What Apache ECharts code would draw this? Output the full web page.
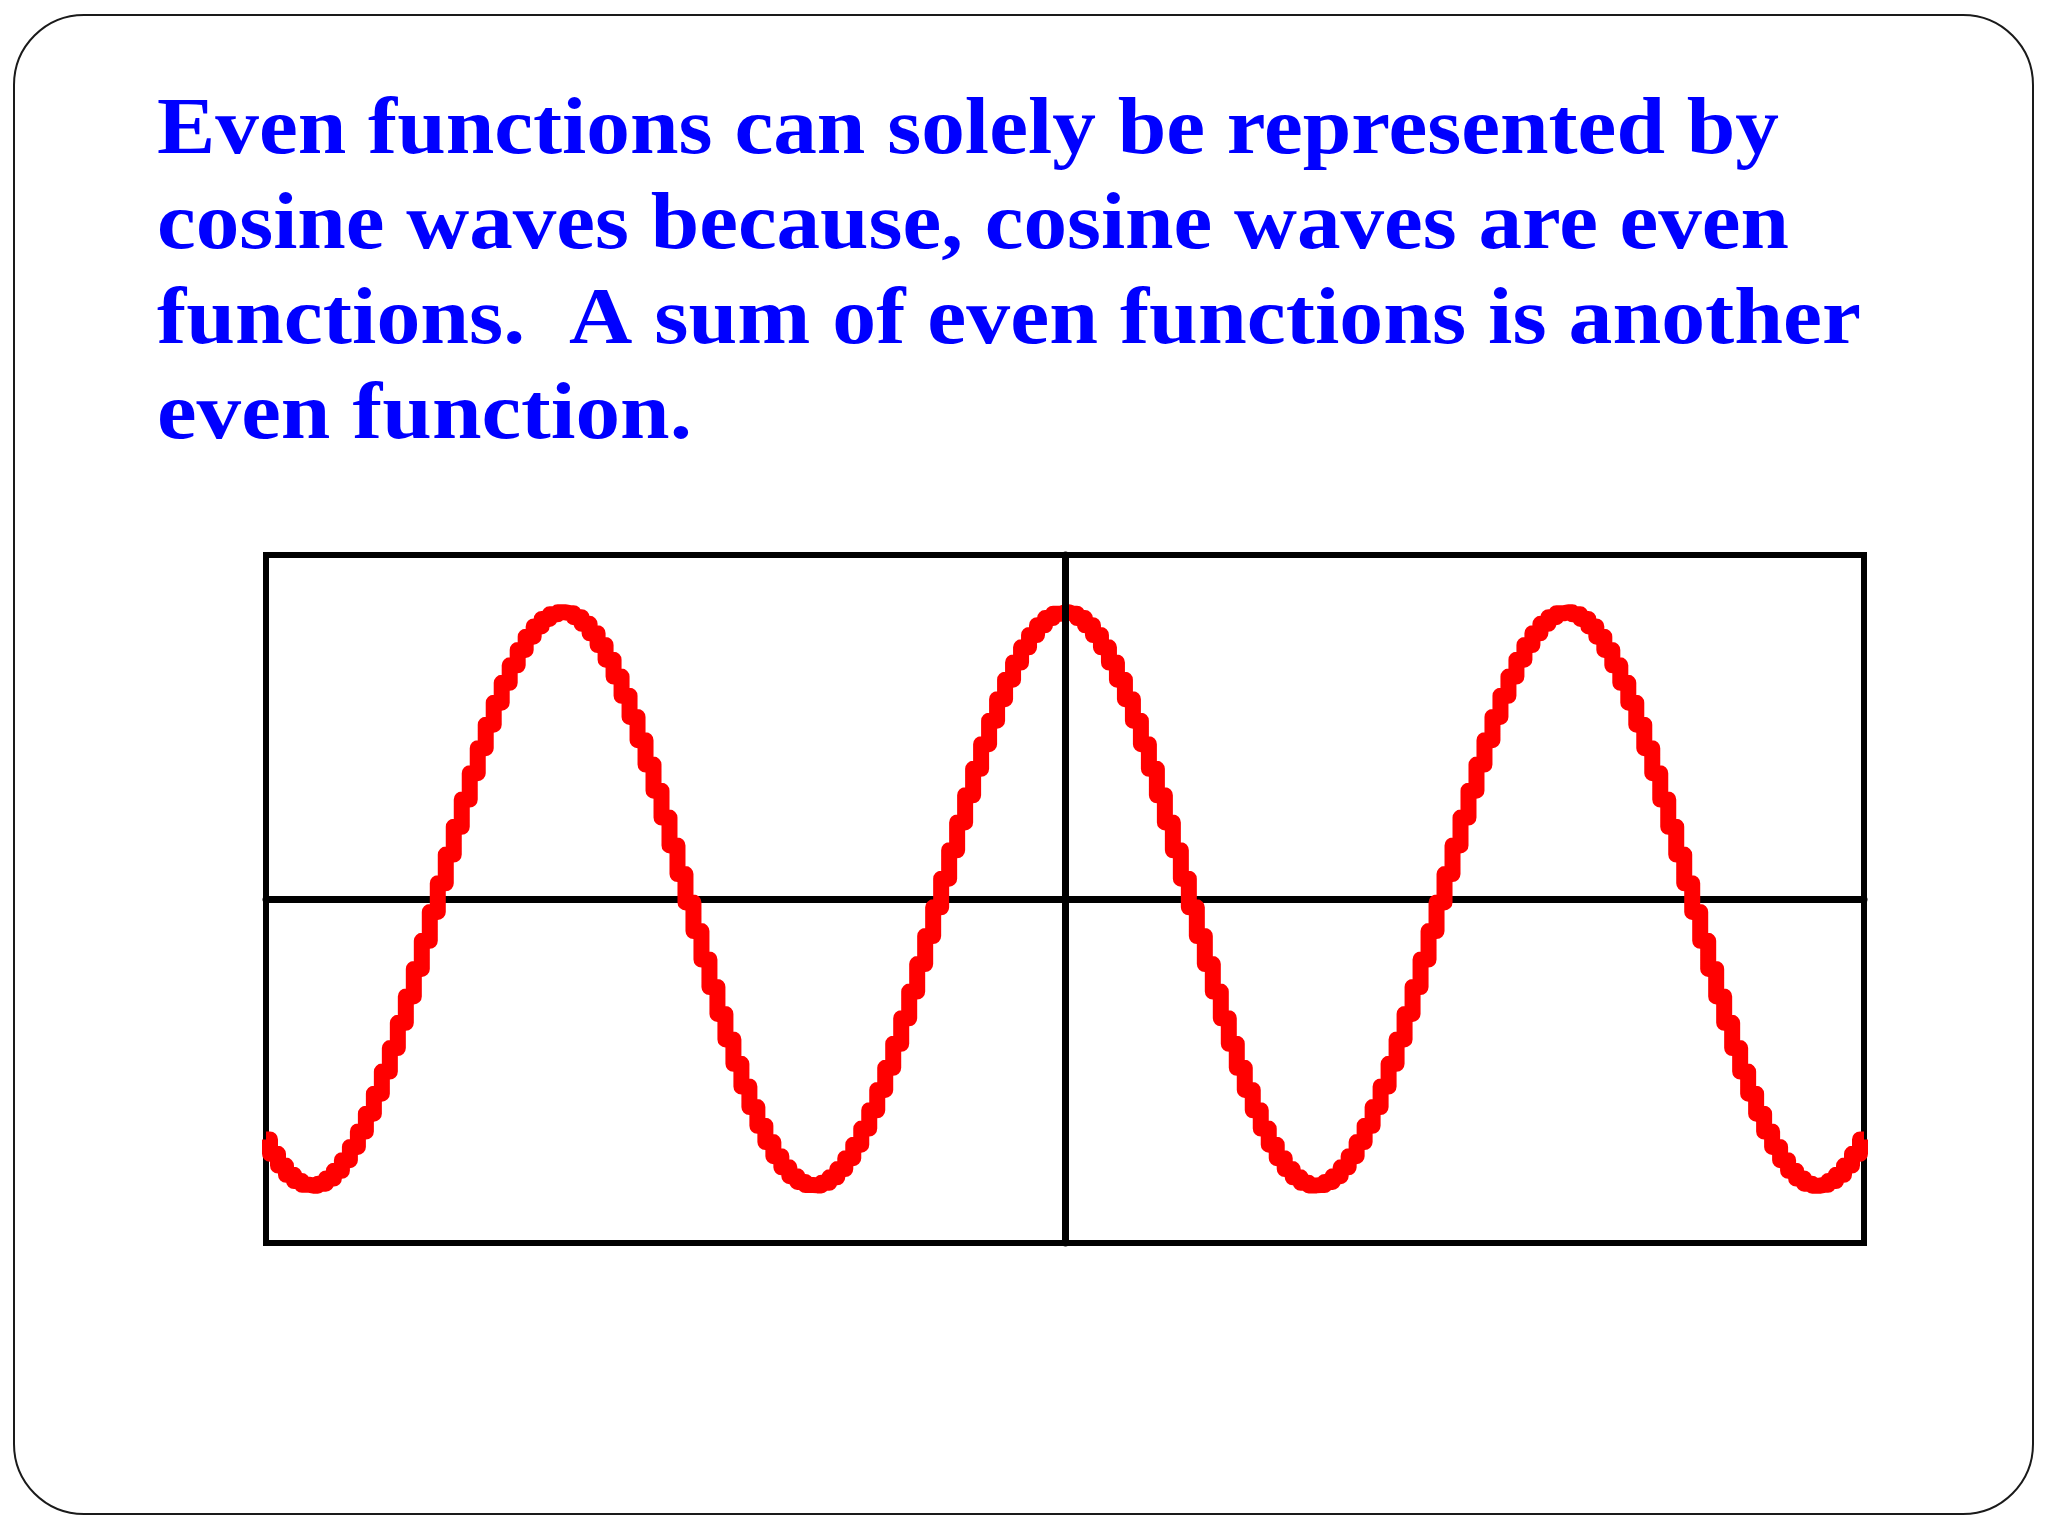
<!DOCTYPE html>
<html>
<head>
<meta charset="utf-8">
<script src="https://cdn.jsdelivr.net/npm/echarts@6/dist/echarts.min.js"></script>
<style>
html,body{margin:0;padding:0;background:#fff;}
#c{width:2048px;height:1536px;}
</style>
</head>
<body>
<div id="c"></div>
<script>
var titleLines = [
  'Even functions can solely be represented by',
  'cosine waves because, cosine waves are even',
  'functions.  A sum of even functions is another',
  'even function.'
];

var xs = [
  -10.0,-9.9,-9.8,-9.7,-9.6,-9.5,-9.4,-9.3,-9.2,-9.1,
  -9.0,-8.9,-8.8,-8.7,-8.6,-8.5,-8.4,-8.3,-8.2,-8.1,
  -8.0,-7.9,-7.8,-7.7,-7.6,-7.5,-7.4,-7.3,-7.2,-7.1,
  -7.0,-6.9,-6.8,-6.7,-6.6,-6.5,-6.4,-6.3,-6.2,-6.1,
  -6.0,-5.9,-5.8,-5.7,-5.6,-5.5,-5.4,-5.3,-5.2,-5.1,
  -5.0,-4.9,-4.8,-4.7,-4.6,-4.5,-4.4,-4.3,-4.2,-4.1,
  -4.0,-3.9,-3.8,-3.7,-3.6,-3.5,-3.4,-3.3,-3.2,-3.1,
  -3.0,-2.9,-2.8,-2.7,-2.6,-2.5,-2.4,-2.3,-2.2,-2.1,
  -2.0,-1.9,-1.8,-1.7,-1.6,-1.5,-1.4,-1.3,-1.2,-1.1,
  -1.0,-0.9,-0.8,-0.7,-0.6,-0.5,-0.4,-0.3,-0.2,-0.1,
  0.0,
  0.1,0.2,0.3,0.4,0.5,0.6,0.7,0.8,0.9,1.0,
  1.1,1.2,1.3,1.4,1.5,1.6,1.7,1.8,1.9,2.0,
  2.1,2.2,2.3,2.4,2.5,2.6,2.7,2.8,2.9,3.0,
  3.1,3.2,3.3,3.4,3.5,3.6,3.7,3.8,3.9,4.0,
  4.1,4.2,4.3,4.4,4.5,4.6,4.7,4.8,4.9,5.0,
  5.1,5.2,5.3,5.4,5.5,5.6,5.7,5.8,5.9,6.0,
  6.1,6.2,6.3,6.4,6.5,6.6,6.7,6.8,6.9,7.0,
  7.1,7.2,7.3,7.4,7.5,7.6,7.7,7.8,7.9,8.0,
  8.1,8.2,8.3,8.4,8.5,8.6,8.7,8.8,8.9,9.0,
  9.1,9.2,9.3,9.4,9.5,9.6,9.7,9.8,9.9,10.0
];

var ys = [
  -0.839,-0.889,-0.930,-0.962,-0.984,-0.997,-1.000,-0.993,-0.975,-0.948,
  -0.911,-0.865,-0.811,-0.749,-0.679,-0.602,-0.520,-0.432,-0.340,-0.244,
  -0.146,-0.045,0.055,0.155,0.252,0.347,0.439,0.526,0.608,0.685,
  0.754,0.815,0.869,0.915,0.951,0.977,0.993,1.000,0.997,0.983,
  0.960,0.927,0.886,0.835,0.776,0.709,0.635,0.554,0.469,0.378,
  0.284,0.187,0.087,-0.012,-0.112,-0.211,-0.307,-0.401,-0.490,-0.575,
  -0.654,-0.726,-0.791,-0.848,-0.897,-0.936,-0.967,-0.987,-0.998,-0.999,
  -0.990,-0.971,-0.942,-0.904,-0.857,-0.801,-0.737,-0.666,-0.589,-0.505,
  -0.416,-0.323,-0.227,-0.129,-0.029,0.071,0.170,0.267,0.362,0.454,
  0.540,0.622,0.697,0.765,0.825,0.878,0.921,0.955,0.980,0.995,
  1.000,
  0.995,0.980,0.955,0.921,0.878,0.825,0.765,0.697,0.622,0.540,
  0.454,0.362,0.267,0.170,0.071,-0.029,-0.129,-0.227,-0.323,-0.416,
  -0.505,-0.589,-0.666,-0.737,-0.801,-0.857,-0.904,-0.942,-0.971,-0.990,
  -0.999,-0.998,-0.987,-0.967,-0.936,-0.897,-0.848,-0.791,-0.726,-0.654,
  -0.575,-0.490,-0.401,-0.307,-0.211,-0.112,-0.012,0.087,0.187,0.284,
  0.378,0.469,0.554,0.635,0.709,0.776,0.835,0.886,0.927,0.960,
  0.983,0.997,1.000,0.993,0.977,0.951,0.915,0.869,0.815,0.754,
  0.685,0.608,0.526,0.439,0.347,0.252,0.155,0.055,-0.045,-0.146,
  -0.244,-0.340,-0.432,-0.520,-0.602,-0.679,-0.749,-0.811,-0.865,-0.911,
  -0.948,-0.975,-0.993,-1.000,-0.997,-0.984,-0.962,-0.930,-0.889,-0.839
];

var xRange = [-10, 10];
var yRange = [-1.2, 1.2];

// layout (not data)
var TITLE_FONT_SIZE = 81;
var TITLE_FONT = 'bold ' + TITLE_FONT_SIZE + 'px "Liberation Serif", "DejaVu Serif", serif';
var titleLeft = 157;
var titleBaselines = [153, 248, 343, 438];
var titleWidths = [1622, 1632, 1704, 535];

var measureCtx = document.createElement('canvas').getContext('2d');
measureCtx.font = TITLE_FONT;

var graphics = [{
  type: 'rect',
  shape: { x: 14, y: 15, width: 2019, height: 1499, r: 70 },
  style: { fill: 'none', stroke: '#1a1a1a', lineWidth: 2 },
  silent: true,
  z: 0
}];

titleLines.forEach(function (line, i) {
  var w = measureCtx.measureText(line).width || titleWidths[i];
  graphics.push({
    type: 'text',
    x: titleLeft,
    y: titleBaselines[i] - Math.round(TITLE_FONT_SIZE * 0.33) + 6,
    scaleX: titleWidths[i] / w,
    style: {
      text: line,
      x: 0,
      y: 0,
      font: TITLE_FONT,
      fill: '#0000ff',
      align: 'left',
      verticalAlign: 'middle'
    },
    silent: true,
    z: 10
  });
});

var seriesData = xs.map(function (x, i) { return [x, ys[i]]; });

var chart = echarts.init(document.getElementById('c'), null, { renderer: 'canvas', width: 2048, height: 1536 });
chart.setOption({
  backgroundColor: '#ffffff',
  animation: false,
  graphic: graphics,
  grid: {
    left: 266, top: 555, width: 1598, height: 688,
    show: true, borderColor: '#000000', borderWidth: 6,
    backgroundColor: 'transparent', containLabel: false
  },
  xAxis: {
    type: 'value', min: xRange[0], max: xRange[1],
    z: 0,
    axisLine: { show: true, onZero: true, lineStyle: { color: '#000000', width: 7 } },
    axisTick: { show: false }, axisLabel: { show: false }, splitLine: { show: false }
  },
  yAxis: {
    type: 'value', min: yRange[0], max: yRange[1],
    z: 5,
    axisLine: { show: true, onZero: true, lineStyle: { color: '#000000', width: 7 } },
    axisTick: { show: false }, axisLabel: { show: false }, splitLine: { show: false }
  },
  series: [{
    type: 'line',
    data: seriesData,
    step: 'middle',
    showSymbol: false,
    symbol: 'none',
    clip: false,
    z: 3,
    lineStyle: { color: '#ff0000', width: 16, join: 'round', cap: 'butt' }
  }]
});
</script>
</body>
</html>
